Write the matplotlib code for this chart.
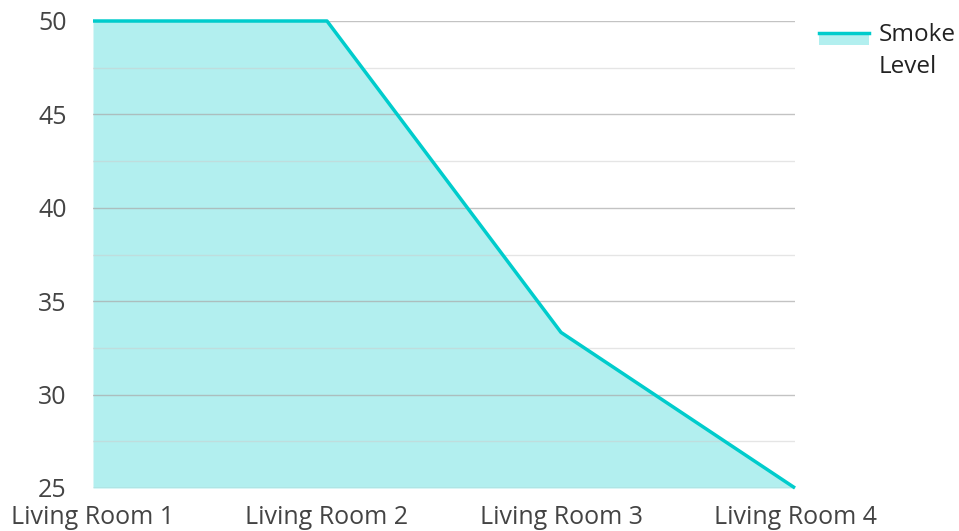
import matplotlib.pyplot as plt
from matplotlib.patches import Rectangle
from matplotlib.lines import Line2D

plt.rcParams['font.family'] = ['Open Sans', 'DejaVu Sans']

rooms = ['Living Room 1', 'Living Room 2', 'Living Room 3', 'Living Room 4']
smoke_level = [50, 50, 33.33, 25]
series_name = 'Smoke\nLevel'

LINE = '#00cccc'
FILL = '#b2efef'
TEXT = '#444444'

W, H = 959, 531
fig = plt.figure(figsize=(W / 100, H / 100), dpi=100)
ax = fig.add_axes([93 / W, 1 - 488 / H, (795 - 93) / W, (488 - 21) / H])

x = list(range(len(rooms)))
ax.fill_between(x, smoke_level, 25, color=FILL, linewidth=0, zorder=1)
ax.plot(x, smoke_level, color=LINE, linewidth=2.5, zorder=3, clip_on=False,
        solid_capstyle='butt')

ax.set_xlim(0, len(rooms) - 1)
ax.set_ylim(25, 50)
ax.set_yticks([25, 30, 35, 40, 45, 50])
ax.set_yticks([27.5, 32.5, 37.5, 42.5, 47.5], minor=True)
ax.grid(True, which='major', axis='y', color='#aaaaaa', linewidth=1, alpha=0.7, zorder=2)
ax.grid(True, which='minor', axis='y', color='#cccccc', linewidth=1, alpha=0.5, zorder=2)
ax.set_axisbelow(False)

ax.set_xticks(x)
ax.set_xticklabels(rooms)
ax.tick_params(axis='both', which='both', length=0, labelsize=18, labelcolor=TEXT)
ax.tick_params(axis='y', pad=19)
ax.tick_params(axis='x', pad=12)
for s in ax.spines.values():
    s.set_visible(False)

# legend drawn by hand in pixel coordinates
fig.patches.append(Rectangle((819 / W, 1 - 45 / H), 50 / W, 11 / H,
                             transform=fig.transFigure, color=FILL, linewidth=0))
fig.lines.append(Line2D([819 / W, 869 / W], [1 - 33 / H, 1 - 33 / H],
                        transform=fig.transFigure, color=LINE, linewidth=2.5))
fig.text(879 / W, 1 - 51 / H, series_name, fontsize=17.5, color='#222222',
         va='center', ha='left', linespacing=1.4)

fig.savefig('out.png', dpi=100)
